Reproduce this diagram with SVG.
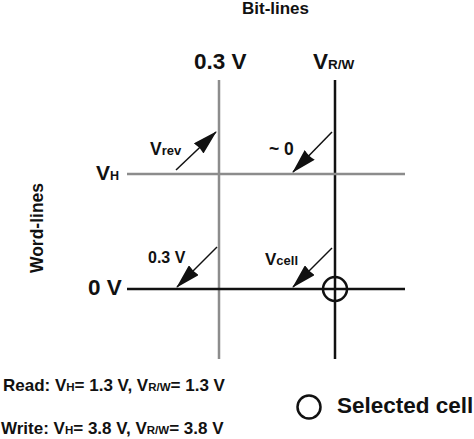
<svg xmlns="http://www.w3.org/2000/svg" width="474" height="439" viewBox="0 0 474 439">
<style>
text{font-family:"Liberation Sans",Arial,sans-serif;font-weight:bold;fill:#111}
.g{stroke:#8c8c8c;stroke-width:2.5;fill:none}
.k{stroke:#111;stroke-width:2.5;fill:none}
.a{stroke:#111;stroke-width:1.5;fill:none;marker-end:url(#ah)}
</style>
<defs>
<marker id="ah" viewBox="0 0 25 14" refX="24" refY="7" markerWidth="25" markerHeight="14" markerUnits="userSpaceOnUse" orient="auto">
<path d="M0,0 L25,7 L0,14 Q2,7 0,0 z" fill="#111"/>
</marker>
</defs>
<rect width="474" height="439" fill="#fff"/>
<g id="titles">
<text x="275.5" y="14" font-size="17" text-anchor="middle">Bit-lines</text>
<text transform="translate(43,228) rotate(-90)" font-size="17.5" text-anchor="middle">Word-lines</text>
</g>
<g id="lines">
<line class="g" x1="219" y1="80" x2="219" y2="359"/>
<line class="k" x1="335" y1="80" x2="335" y2="359"/>
<line class="g" x1="127" y1="174" x2="405" y2="174"/>
<line class="k" x1="127" y1="289" x2="405" y2="289"/>
</g>
<g id="bitline-labels">
<text x="194" y="69" font-size="22.5">0.3 V</text>
<text x="313" y="69" font-size="22.5">V<tspan font-size="13.5">R/W</tspan></text>
</g>
<g id="wordline-labels">
<text x="96" y="180" font-size="21">V<tspan font-size="12.5">H</tspan></text>
<text x="88" y="295" font-size="22.5">0 V</text>
</g>
<g id="connectors">
<line class="a" x1="176" y1="170" x2="216" y2="132"/>
<line class="a" x1="332" y1="132" x2="293" y2="172"/>
<line class="a" x1="217" y1="247" x2="177" y2="287"/>
<line class="a" x1="332" y1="248" x2="293" y2="287"/>
</g>
<g id="arrow-labels">
<text x="150" y="155" font-size="17.5">V<tspan font-size="13">rev</tspan></text>
<text x="269" y="155" font-size="17.5">~ 0</text>
<text x="148" y="263" font-size="16">0.3 V</text>
<text x="265" y="265" font-size="17">V<tspan font-size="13">cell</tspan></text>
</g>
<g id="selected-cell">
<circle class="k" cx="335" cy="289" r="12"/>
</g>
<g id="legend">
<text x="3" y="391" font-size="17">Read: V<tspan font-size="11.5">H</tspan>= 1.3 V, V<tspan font-size="11.5">R/W</tspan>= 1.3 V</text>
<text x="1" y="434" font-size="17">Write: V<tspan font-size="11.5">H</tspan>= 3.8 V, V<tspan font-size="11.5">R/W</tspan>= 3.8 V</text>
<circle class="k" cx="309" cy="407" r="11.5"/>
<text x="337" y="413" font-size="22.5">Selected cell</text>
</g>
</svg>
